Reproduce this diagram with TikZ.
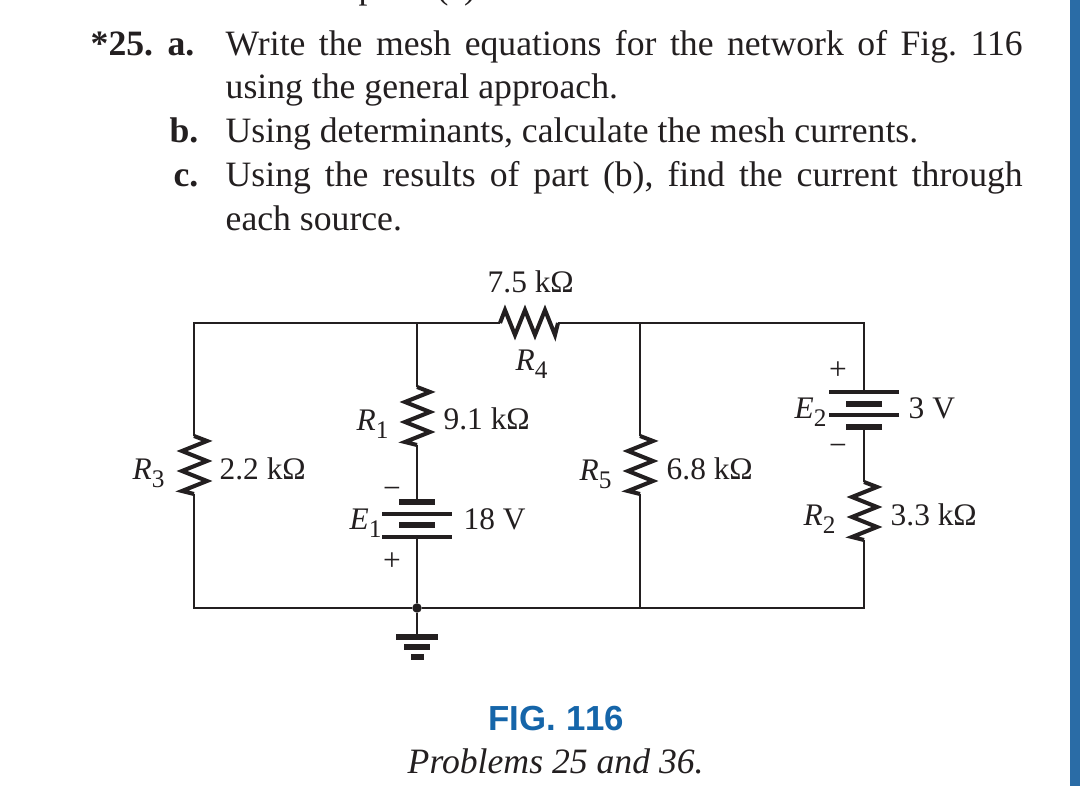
\documentclass[tikz,border=0pt]{standalone}
\usepackage{fontspec}
\setmainfont{Liberation Serif}
\newfontfamily\figfont[Kerning=Off]{Liberation Sans}
\definecolor{ink}{HTML}{231F20}
\definecolor{figblue}{HTML}{1565A9}
\definecolor{stripblue}{HTML}{2A6CA6}
\tikzset{
  wire/.style={draw=ink,line width=0.6pt},
  zigzag/.style={draw=ink,line width=1.15pt,line join=miter},
  longplate/.style={draw=ink,line width=1.15pt},
  shortplate/.style={draw=ink,line width=1.6pt},
  jointdot/.style={circle,fill=ink,inner sep=0pt,minimum size=0.095cm},
  textline/.style={anchor=base west,inner sep=0pt,text=ink,font=\fontsize{10.15}{12.4}\selectfont},
  itemmark/.style={anchor=base east,inner sep=0pt,text=ink,font=\fontsize{10.15}{12.4}\selectfont\bfseries},
  value/.style={anchor=base west,inner sep=0pt,text=ink,font=\fontsize{8.93}{10}\selectfont}
}
\newcommand{\fullline}[1]{\hbox to 7.97cm{#1}}
\newcommand{\sym}[2]{\textit{#1}\raisebox{-2pt}{\fontsize{7.2}{7.2}\selectfont #2}}
\newcommand{\resistor}[3]{
  % Name, first end, angle
  \begin{scope}[shift={#2},rotate=#3]
    \draw [zigzag] (0,0) coordinate (#1a) -- (0.13,-0.05) -- (-0.12,-0.15)
      -- (0.13,-0.25) -- (-0.12,-0.35) -- (0.13,-0.45) -- (-0.12,-0.55)
      -- (0,-0.58) coordinate (#1b);
  \end{scope}
}
\newcommand{\battery}[3]{
  % Name, centre, angle
  \begin{scope}[shift={#2},rotate=#3]
    \coordinate (#1a) at (0,0.175);
    \coordinate (#1b) at (0,-0.175);
    \draw [shortplate] (-0.18,0.175) -- (0.18,0.175);
    \draw [longplate] (-0.35,0.055) -- (0.35,0.055);
    \draw [shortplate] (-0.18,-0.055) -- (0.18,-0.055);
    \draw [longplate] (-0.35,-0.175) -- (0.35,-0.175);
  \end{scope}
}
\frenchspacing
\begin{document}
\begin{tikzpicture}
  \path [use as bounding box,clip] (0,0) rectangle (10.8,7.86);
  \fill [white] (0,0) rectangle (10.8,7.86);
  \fill [stripblue] (10.7,0) rectangle (10.8,7.86);

  % The line cut off at the top
  \node [textline] (cutp) at (3.58,7.87) {p};
  \node [textline] (cutparen) at (4.36,7.87) {(\hspace{0.155cm})};

  % The problem text
  \node [itemmark,anchor=base west] (number) at (0.90,7.30) {*25.};
  \node [itemmark] (marka) at (1.95,7.30) {a.};
  \node [itemmark] (markb) at (1.99,6.43) {b.};
  \node [itemmark] (markc) at (1.99,5.99) {c.};
  \node [textline] (linea) at (2.25,7.30) {\fullline{Write the mesh equations for the network of Fig. 116}};
  \node [textline] (lineb) at (2.25,6.87) {using the general approach.};
  \node [textline] (linec) at (2.25,6.43) {Using determinants, calculate the mesh currents.};
  \node [textline] (lined) at (2.25,5.99) {\fullline{Using the results of part (b), find the current through}};
  \node [textline] (linee) at (2.25,5.55) {each source.};

  % The corners of the network
  \coordinate (topa) at (1.94,4.63);
  \coordinate (topb) at (4.17,4.63);
  \coordinate (topc) at (6.40,4.63);
  \coordinate (topd) at (8.64,4.63);
  \coordinate (bota) at (1.94,1.78);
  \coordinate (botc) at (6.40,1.78);
  \coordinate (botd) at (8.64,1.78);
  \node [jointdot] (joint) at (4.17,1.78) {};
  \coordinate (gnd) at (4.17,1.49);

  % The parts
  \resistor{Rthree}{(1.94,3.50)}{0}
  \resistor{Rone}{(4.17,3.99)}{0}
  \resistor{Rfive}{(6.40,3.50)}{0}
  \resistor{Rtwo}{(8.64,3.04)}{0}
  \resistor{Rfour}{(5.00,4.63)}{90}
  \battery{Eone}{(4.17,2.665)}{0}
  \battery{Etwo}{(8.64,3.765)}{180}

  % The wires
  \draw [wire] (Rthreea) -- (topa) -- (topb) -- (Rfoura);
  \draw [wire] (Rfourb) -- (topc) -- (topd) -- (Etwob);
  \draw [wire] (Etwoa) -- (Rtwoa);
  \draw [wire] (Rtwob) -- (botd) -- (botc) -- (joint) -- (bota) -- (Rthreeb);
  \draw [wire] (topb) -- (Ronea);
  \draw [wire] (Roneb) -- (Eonea);
  \draw [wire] (Eoneb) -- (joint);
  \draw [wire] (topc) -- (Rfivea);
  \draw [wire] (Rfiveb) -- (botc);
  \draw [wire] (joint) -- (gnd);

  % The ground
  \draw [shortplate] (3.96,1.49) -- (4.38,1.49);
  \draw [shortplate] (4.04,1.39) -- (4.30,1.39);
  \draw [shortplate] (4.11,1.29) -- (4.24,1.29);

  % The labels
  \node [value] (valfour) at (4.87,4.93) {7.5 kΩ};
  \node [value] (namefour) at (5.15,4.15) {\sym{R}{4}};
  \node [value] (nameone) at (3.56,3.55) {\sym{R}{1}};
  \node [value] (valone) at (4.43,3.56) {9.1 kΩ};
  \node [value] (namethree) at (1.32,3.06) {\sym{R}{3}};
  \node [value] (valthree) at (2.19,3.06) {2.2 kΩ};
  \node [value] (namefive) at (5.79,3.05) {\sym{R}{5}};
  \node [value] (valfive) at (6.66,3.06) {6.8 kΩ};
  \node [value] (nametwo) at (8.03,2.60) {\sym{R}{2}};
  \node [value] (valtwo) at (8.90,2.60) {3.3 kΩ};
  \node [value] (nameeone) at (3.49,2.56) {\sym{E}{1}};
  \node [value] (valeone) at (4.63,2.56) {18 V};
  \node [value] (nameetwo) at (7.94,3.67) {\sym{E}{2}};
  \node [value] (valetwo) at (9.08,3.67) {3 V};
  \node [value,anchor=center] (minusone) at (3.92,2.93) {−};
  \node [value,anchor=center] (plusone) at (3.92,2.24) {+};
  \node [value,anchor=center] (plustwo) at (8.38,4.15) {+};
  \node [value,anchor=center] (minustwo) at (8.38,3.36) {−};

  % The caption
  \node [anchor=base west,inner sep=0pt,text=figblue,font=\fontsize{9.9}{12}\selectfont\figfont\bfseries] (figname) at (4.88,0.55) {FIG. 116};
  \node [textline,font=\fontsize{10.15}{12.4}\selectfont\itshape] (figtext) at (4.07,0.12) {Problems 25 and 36.};
\end{tikzpicture}
\end{document}
